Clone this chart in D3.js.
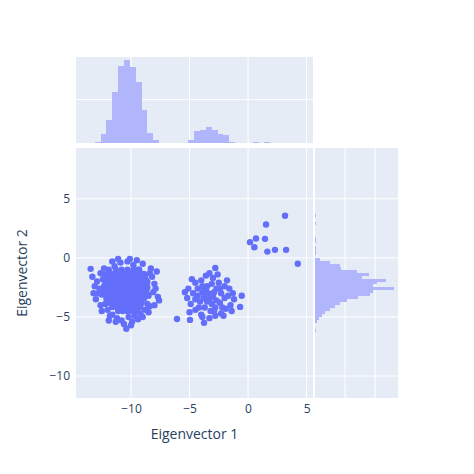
<!DOCTYPE html>
<html>
<head>
<meta charset="utf-8">
<script src="https://cdn.jsdelivr.net/npm/d3@7"></script>
<style>
  body { margin: 0; background: #fff; }
  text { font-family: "Open Sans", Arial, sans-serif; fill: #2a3f5f; }
</style>
</head>
<body>
<svg id="chart" width="474" height="474"></svg>
<script>
// ---------- data ----------
const bigCluster = [
  [-13.45,-0.93],[-13.1,-2.4],[-13.0,-3.5],[-10.4,-6.0],[-7.7,-3.3],[-7.6,-3.6],[-7.8,-1.15],[-11.8,-4.9],[-8.4,-4.1],
  [-12.6,-1.3],[-12.4,-1.8],[-12.7,-2.6],[-12.5,-3.1],[-12.2,-3.9],[-12.0,-4.4],[-11.6,-4.8],[-11.2,-5.1],[-10.8,-5.3],
  [-10.2,-5.0],[-9.7,-4.9],[-9.2,-4.7],[-8.8,-4.4],[-8.6,-3.9],[-8.5,-3.2],[-8.6,-2.5],[-8.7,-1.9],[-8.9,-1.4],[-9.3,-1.0],
  [-9.8,-0.6],[-10.3,-0.3],[-10.9,-0.4],[-11.4,-0.7],[-11.9,-1.0],[-12.2,-1.4],[-10.1,-0.1],[-9.5,-0.2],[-11.1,-0.1],
  [-8.2,-1.6],[-8.0,-2.2],[-8.1,-2.9],[-8.3,-0.9],[-12.9,-2.0],[-12.8,-3.0],[-11.9,-5.3],[-9.9,-5.4],[-9.4,-5.2],
  [-12.0,-1.9],[-8.5,-4.6],[-9.0,-5.0],[-11.3,-5.4],[-12.5,-4.5],[-8.4,-1.3],[-13.3,-1.6],[-7.9,-2.6],[-8.0,-4.0],
  [-12.3,-0.9],[-9.0,-0.5],[-11.6,-0.3],[-10.0,-5.7],[-10.6,-5.6],[-13.2,-3.0],[-12.6,-4.0]
];
// dense core of the big cluster, row by row
const coreY = [-1.0,-1.35,-1.7,-2.05,-2.4,-2.75,-3.1,-3.45,-3.8,-4.15,-4.5];
const coreX = [
  [-11.3,-10.8,-10.3,-9.8,-9.4],
  [-11.7,-11.3,-10.9,-10.5,-10.1,-9.7,-9.3,-8.9],
  [-12.0,-11.6,-11.2,-10.8,-10.4,-10.0,-9.6,-9.2,-8.8],
  [-12.2,-11.8,-11.4,-11.0,-10.6,-10.2,-9.8,-9.4,-9.0,-8.6],
  [-12.3,-11.9,-11.5,-11.1,-10.7,-10.3,-9.9,-9.5,-9.1,-8.7],
  [-12.3,-11.9,-11.5,-11.1,-10.7,-10.3,-9.9,-9.5,-9.1,-8.7],
  [-12.2,-11.8,-11.4,-11.0,-10.6,-10.2,-9.8,-9.4,-9.0,-8.6],
  [-12.1,-11.7,-11.3,-10.9,-10.5,-10.1,-9.7,-9.3,-8.9],
  [-11.9,-11.5,-11.1,-10.7,-10.3,-9.9,-9.5,-9.1],
  [-11.6,-11.2,-10.8,-10.4,-10.0,-9.6,-9.2],
  [-11.1,-10.7,-10.3,-9.9,-9.5]
];
const smallCluster = [
  [-6.07,-5.17],[-4.96,-5.25],[-3.76,-5.5],[-2.8,-0.85],[-0.54,-3.2],[-0.68,-4.15],[-5.1,-2.6],[-4.8,-1.8],[-4.5,-2.1],
  [-4.0,-1.9],[-3.6,-1.5],[-3.0,-1.7],[-2.5,-2.1],[-2.0,-2.4],[-1.6,-2.6],[-1.3,-3.0],[-1.2,-3.5],[-1.5,-4.0],[-1.9,-4.3],
  [-2.3,-4.7],[-2.8,-4.9],[-3.3,-5.1],[-4.0,-4.8],[-4.5,-4.4],[-4.9,-3.9],[-5.2,-3.4],[-4.7,-3.0],[-4.3,-2.6],[-3.9,-2.9],
  [-3.5,-2.4],[-3.1,-2.2],[-2.7,-2.6],[-2.3,-3.0],[-2.0,-3.4],[-2.4,-3.8],[-2.8,-4.2],[-3.2,-4.5],[-3.7,-4.2],[-4.1,-3.7],
  [-4.3,-3.2],[-3.8,-3.4],[-3.4,-3.0],[-3.0,-3.3],[-2.7,-3.6],[-3.1,-3.9],[-3.5,-3.7],[-1.7,-3.2],[-1.8,-1.9],[-2.6,-1.4],
  [-3.3,-1.3],[-4.2,-4.2],[-3.9,-5.0],[-2.1,-4.9],[-1.4,-4.5],[-5.0,-4.6],[-5.4,-2.9],[-3.6,-2.7],[-2.9,-2.9],
  [-3.3,-3.5],[-3.6,-3.1],[-2.9,-4.5],[-4.5,-3.5],[-2.4,-2.6],[-3.9,-2.4],[-2.2,-4.2]
];
const outliers = [
  [3.16,3.56],[1.54,2.82],[0.17,1.33],[0.68,1.64],[1.45,1.61],[0.54,0.9],[1.65,0.53],[2.3,0.68],[3.25,0.68],[4.25,-0.5]
];
// top histogram (x): bin starts and counts
const xBinStart = [-13.6,-13.1,-12.6,-12.1,-11.6,-11.1,-10.6,-10.1,-9.6,-9.1,-8.6,-8.1,-7.6,
  -6.1,-5.6,-5.1,-4.6,-4.1,-3.6,-3.1,-2.6,-2.1,-1.6,0.4,1.4,2.9,3.9];
const xCounts = [1,2,20,53,117,178,191,174,141,76,22,6,1,
  1,1,6,27,31,36,31,20,19,2,2,2,1,1];
const xBinWidth = 0.5;
// right histogram (y): bin starts and counts
const yBinStart = [-0.25,-0.5,-0.75,-1,-1.25,-1.5,-1.75,-2,-2.25,-2.5,-2.75,-3,-3.25,-3.5,-3.75,-4,-4.25,-4.5,-4.75,-5,-5.25,-5.5,
  3.5,2.75,1.5,1.25,0.75,0.5,0.25,-6.25];
const yCounts = [8,25,42,43,69,89,78,118,103,97,132,97,92,72,53,42,33,25,17,11,6,3,
  1,1,1,1,1,2,1,1];
const yBinWidth = 0.25;
const xTicks = [-10,-5,0,5];
const yTicks = [5,0,-5,-10];

// ---------- layout ----------
const svg = d3.select("#chart");
const main = {l: 76, r: 313, t: 148, b: 398};
const topH = {t: 57, b: 143};
const side = {l: 315, r: 398};
const bg = "#e5ecf6", col = "#636efa", histCol = "#b1b6fc";

const x = d3.scaleLinear().domain([-14.7, 5.55]).range([main.l, main.r]);
const y = d3.scaleLinear().domain([9.3, -11.86]).range([main.t, main.b]);
const hx = d3.scaleLinear().domain([0, 198]).range([topH.b, topH.t]);
const hy = d3.scaleLinear().domain([0, 138]).range([side.l, side.r]);

// backgrounds
svg.append("rect").attr("x", main.l).attr("y", main.t).attr("width", main.r - main.l).attr("height", main.b - main.t).attr("fill", bg);
svg.append("rect").attr("x", main.l).attr("y", topH.t).attr("width", main.r - main.l).attr("height", topH.b - topH.t).attr("fill", bg);
svg.append("rect").attr("x", side.l).attr("y", main.t).attr("width", side.r - side.l).attr("height", main.b - main.t).attr("fill", bg);

// gridlines
const grid = svg.append("g").attr("stroke", "#fff").attr("stroke-width", 1);
xTicks.forEach(t => {
  grid.append("line").attr("x1", x(t)).attr("x2", x(t)).attr("y1", main.t).attr("y2", main.b);
  grid.append("line").attr("x1", x(t)).attr("x2", x(t)).attr("y1", topH.t).attr("y2", topH.b);
});
yTicks.forEach(t => {
  grid.append("line").attr("x1", main.l).attr("x2", main.r).attr("y1", y(t)).attr("y2", y(t));
  grid.append("line").attr("x1", side.l).attr("x2", side.r).attr("y1", y(t)).attr("y2", y(t));
});
grid.append("line").attr("x1", main.l).attr("x2", main.r).attr("y1", hx(100)).attr("y2", hx(100));
[50, 100].forEach(t => grid.append("line").attr("x1", hy(t)).attr("x2", hy(t)).attr("y1", main.t).attr("y2", main.b));

// top histogram
svg.append("g").attr("shape-rendering", "crispEdges").selectAll("rect").data(xBinStart).join("rect")
  .attr("x", d => x(d)).attr("width", x(xBinWidth) - x(0))
  .attr("y", (d, i) => hx(xCounts[i])).attr("height", (d, i) => hx(0) - hx(xCounts[i]))
  .attr("fill", histCol);

// right histogram
svg.append("g").attr("shape-rendering", "crispEdges").selectAll("rect").data(yBinStart).join("rect")
  .attr("x", side.l).attr("width", (d, i) => hy(yCounts[i]) - hy(0))
  .attr("y", d => y(d + yBinWidth)).attr("height", y(0) - y(yBinWidth))
  .attr("fill", histCol);

// scatter
const corePts = coreY.flatMap((cy, i) => coreX[i].map(cx => [cx, cy]));
svg.append("g").selectAll("circle").data([...bigCluster, ...corePts, ...smallCluster, ...outliers]).join("circle")
  .attr("cx", d => x(d[0])).attr("cy", d => y(d[1])).attr("r", 3.2).attr("fill", col);

// axes
const xAxis = svg.append("g").attr("transform", `translate(0,${main.b})`)
  .call(d3.axisBottom(x).tickValues(xTicks).tickSize(0).tickPadding(6).tickFormat(d => d < 0 ? "\u2212" + (-d) : d));
const yAxis = svg.append("g").attr("transform", `translate(${main.l},0)`)
  .call(d3.axisLeft(y).tickValues(yTicks).tickSize(0).tickPadding(6).tickFormat(d => d < 0 ? "\u2212" + (-d) : d));
[xAxis, yAxis].forEach(a => {
  a.select(".domain").remove();
  a.selectAll("text").attr("font-size", 12).attr("fill", "#2a3f5f").style("font-family", "'Open Sans', sans-serif");
});

svg.append("text").attr("x", (main.l + main.r) / 2).attr("y", 439).attr("text-anchor", "middle")
  .attr("font-size", 14).text("Eigenvector 1");
svg.append("text").attr("transform", `translate(27,${(main.t + main.b) / 2}) rotate(-90)`).attr("text-anchor", "middle")
  .attr("font-size", 14).text("Eigenvector 2");
</script>
</body>
</html>
